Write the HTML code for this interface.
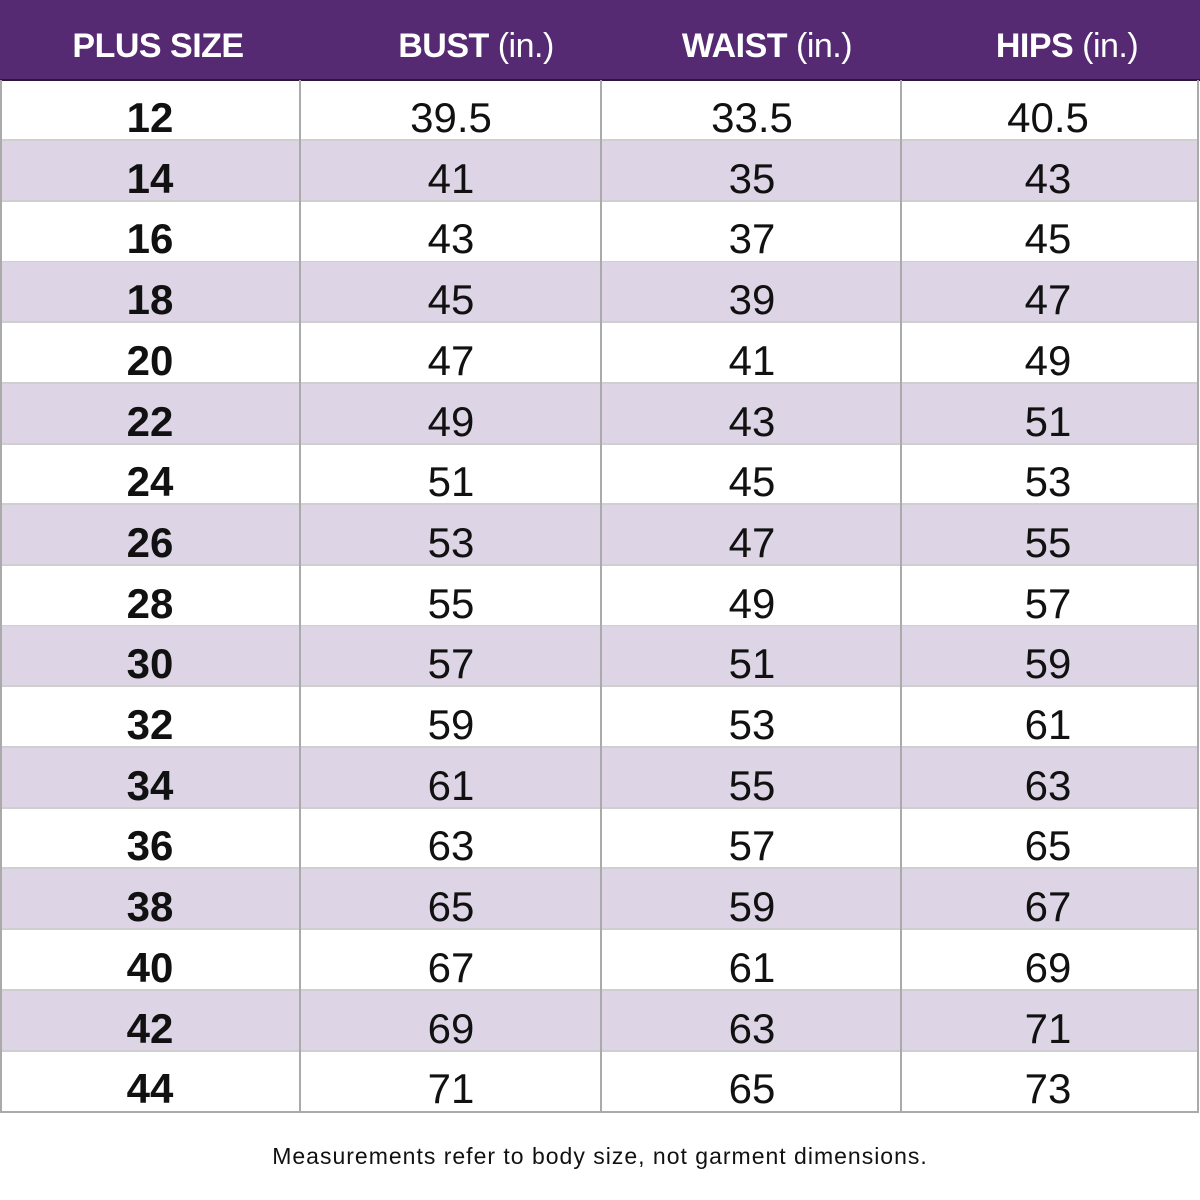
<!DOCTYPE html>
<html><head><style>
body{margin:0;width:1200px;height:1200px;background:#fff;position:relative;overflow:hidden;font-family:"Liberation Sans",sans-serif}
.hd{position:absolute;left:0;top:0;width:1200px;height:79px;background:#552a72;border-bottom:2px solid #2e1540}
.h{position:absolute;top:27px;color:#fff;font-weight:bold;font-size:34px;text-align:center;width:300px;letter-spacing:-0.5px}
.h span{font-weight:normal}
.r{position:absolute;left:1px;width:1197px;height:61px;border-bottom:2px solid #cfcfcf;box-sizing:border-box}
.s{background:#ddd5e5}
.c{position:absolute;width:300px;text-align:center;font-size:42px;line-height:61px;padding-top:7px;color:#111}
.b{font-weight:bold}
.v{position:absolute;top:80px;height:1033px;width:2px;background:#aaa}
</style></head><body>
<div class="hd"></div>
<div class="h" style="left:8px">PLUS SIZE</div>
<div class="h" style="left:326px">BUST <span>(in.)</span></div>
<div class="h" style="left:617px">WAIST <span>(in.)</span></div>
<div class="h" style="left:917px">HIPS <span>(in.)</span></div>
<div class="r" style="top:80px"></div>
<div class="r s" style="top:141px"></div>
<div class="r" style="top:202px"></div>
<div class="r s" style="top:262px"></div>
<div class="r" style="top:323px"></div>
<div class="r s" style="top:384px"></div>
<div class="r" style="top:444px"></div>
<div class="r s" style="top:505px"></div>
<div class="r" style="top:566px"></div>
<div class="r s" style="top:626px"></div>
<div class="r" style="top:687px"></div>
<div class="r s" style="top:748px"></div>
<div class="r" style="top:808px"></div>
<div class="r s" style="top:869px"></div>
<div class="r" style="top:930px"></div>
<div class="r s" style="top:991px"></div>
<div class="r" style="top:1051px;height:62px;border-bottom:2px solid #aaa"></div>
<div class="v" style="left:0"></div><div class="v" style="left:299px"></div><div class="v" style="left:600px"></div><div class="v" style="left:900px"></div><div class="v" style="left:1197px"></div>
<div id="t"></div>
<div style="position:absolute;top:1143px;left:0;width:1200px;text-align:center;font-size:23px;letter-spacing:1px;color:#111">Measurements refer to body size, not garment dimensions.</div>
<script>
var d=[["12","39.5","33.5","40.5"]];
for(var i=1;i<17;i++){var s=12+2*i,b=39+2*i,w=33+2*i,h=41+2*i;d.push([""+s,""+b,""+w,""+h]);}
var xs=[0,301,602,898],o="";
d.forEach(function(r,i){var t=80+i*60.7;r.forEach(function(v,j){o+='<div class="c'+(j==0?' b':'')+'" style="top:'+t+'px;left:'+xs[j]+'px">'+v+'</div>';});});
document.getElementById("t").innerHTML=o;
</script>
</body></html>
